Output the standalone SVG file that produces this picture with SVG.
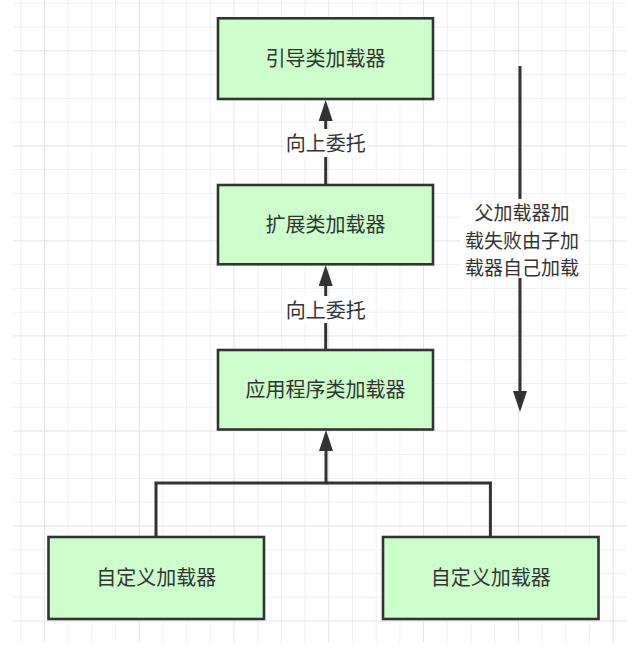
<svg xmlns="http://www.w3.org/2000/svg" width="627" height="655" viewBox="0 0 627 655">
<style>
.minor{stroke:#f0f0f0;stroke-width:1;fill:none}
.major{stroke:#e3e3e3;stroke-width:1;fill:none}
.box{fill:#ccffcc;stroke:#333333;stroke-width:2.6}
.lbl{font-family:"Noto Sans CJK SC","Noto Sans",sans-serif;font-size:20px;fill:#333333;text-anchor:middle}
.side{font-size:19px}
.edge{stroke:#333333;stroke-width:3;fill:none}
.bg{fill:#ffffff}
</style>
<defs>
<marker id="arr" viewBox="0 0 21 14" refX="0" refY="7" markerWidth="21" markerHeight="14" markerUnits="userSpaceOnUse" orient="auto">
<path d="M0,0 L21,7 L0,14 Z" fill="#333333"/>
</marker>
</defs>
<rect x="0" y="0" width="627" height="655" fill="#ffffff"/>
<g id="grid">
<path class="minor" d="M20.7 0V643M68.1 0V643M91.8 0V643M115.5 0V643M162.9 0V643M186.6 0V643M210.3 0V643M257.7 0V643M281.4 0V643M305.1 0V643M352.5 0V643M376.2 0V643M399.9 0V643M447.3 0V643M471 0V643M494.7 0V643M542.1 0V643M565.8 0V643M589.5 0V643
M13 3.3H627M13 27.06H627M13 74.58H627M13 98.34H627M13 122.1H627M13 169.62H627M13 193.38H627M13 217.14H627M13 264.66H627M13 288.42H627M13 312.18H627M13 359.7H627M13 383.46H627M13 407.22H627M13 454.74H627M13 478.5H627M13 502.26H627M13 549.78H627M13 573.54H627M13 597.3H627"/>
<path class="major" d="M44.4 0V643M139.2 0V643M234 0V643M328.8 0V643M423.6 0V643M518.4 0V643M613.2 0V643
M13 50.82H627M13 145.86H627M13 240.9H627M13 335.94H627M13 430.98H627M13 526.02H627M13 621.06H627"/>
</g>
<g id="connectors">
<path class="edge" d="M325.7 185V121" marker-end="url(#arr)"/>
<rect class="bg" x="284" y="129" width="84" height="28"/>
<text class="lbl" x="325.7" y="151">向上委托</text>
<path class="edge" d="M325.7 350V286" marker-end="url(#arr)"/>
<rect class="bg" x="284" y="296" width="84" height="27"/>
<text class="lbl" x="325.7" y="318">向上委托</text>
<path class="edge" d="M156 537V483H326V451" marker-end="url(#arr)"/>
<path class="edge" d="M490.4 537V483H326"/>
<path class="edge" d="M520 66V391" marker-end="url(#arr)"/>
<rect class="bg" x="460" y="199" width="124" height="79"/>
<text class="lbl side" x="522" y="220"><tspan x="522" y="220">父加载器加</tspan><tspan x="522" dy="27.6">载失败由子加</tspan><tspan x="522" dy="27.6">载器自己加载</tspan></text>
</g>
<g id="bootstrap">
<rect class="box" x="218" y="18.3" width="215" height="80.7"/>
<text class="lbl" x="325.5" y="66">引导类加载器</text>
</g>
<g id="extension">
<rect class="box" x="218" y="185" width="215" height="79.3"/>
<text class="lbl" x="325.5" y="232">扩展类加载器</text>
</g>
<g id="application">
<rect class="box" x="218" y="350" width="215" height="79.5"/>
<text class="lbl" x="325.5" y="397">应用程序类加载器</text>
</g>
<g id="custom1">
<rect class="box" x="48.5" y="537" width="215.5" height="82"/>
<text class="lbl" x="156.2" y="585">自定义加载器</text>
</g>
<g id="custom2">
<rect class="box" x="383" y="537" width="215.5" height="82"/>
<text class="lbl" x="490.7" y="585">自定义加载器</text>
</g>
</svg>
